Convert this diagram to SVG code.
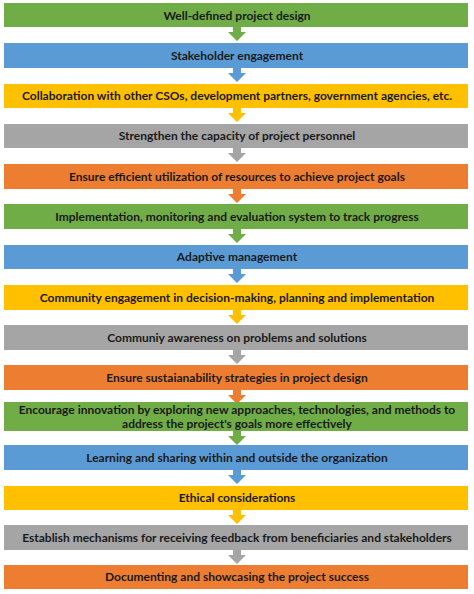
<svg xmlns="http://www.w3.org/2000/svg" width="474" height="594" viewBox="0 0 474 594">
<style>
text{font-family:Lato,"Liberation Sans",sans-serif;font-weight:bold;font-size:12px;fill:#1a1a1a;text-anchor:middle}
.g{fill:#70AD47}.b{fill:#5B9BD5}.y{fill:#FFC000}.s{fill:#A5A5A5}.o{fill:#ED7D31}
</style>
<defs>
<path id="arr" d="M-4 0H4V5H9L0 14L-9 5H-4Z"/>
</defs>
<rect width="474" height="594" fill="#fff"/>
<g id="connectors">
<use href="#arr" x="237" y="27" class="g"/>
<use href="#arr" x="237" y="68" class="b"/>
<use href="#arr" x="237" y="108" class="y"/>
<use href="#arr" x="237" y="148" class="s"/>
<use href="#arr" x="237" y="189" class="o"/>
<use href="#arr" x="237" y="229" class="g"/>
<use href="#arr" x="237" y="269" class="b"/>
<use href="#arr" x="237" y="310" class="y"/>
<use href="#arr" x="237" y="350" class="s"/>
<use href="#arr" x="237" y="390" class="o"/>
<use href="#arr" x="237" y="431" class="g"/>
<use href="#arr" x="237" y="470" class="b"/>
<use href="#arr" x="237" y="510" class="y"/>
<use href="#arr" x="237" y="550" class="s"/>
</g>
<g id="n1"><rect class="g" x="4" y="3" width="464" height="24"/><text x="237" y="19.5">Well-defined project design</text></g>
<g id="n2"><rect class="b" x="4" y="43" width="464" height="25"/><text x="237" y="60">Stakeholder engagement</text></g>
<g id="n3"><rect class="y" x="4" y="84" width="464" height="24"/><text x="237" y="100">Collaboration with other CSOs, development partners, government agencies, etc.</text></g>
<g id="n4"><rect class="s" x="4" y="124" width="464" height="24"/><text x="237" y="140">Strengthen the capacity of project personnel</text></g>
<g id="n5"><rect class="o" x="4" y="164" width="464" height="25"/><text x="237" y="181">Ensure efficient utilization of resources to achieve project goals</text></g>
<g id="n6"><rect class="g" x="4" y="204" width="464" height="25"/><text x="237" y="221">Implementation, monitoring and evaluation system to track progress</text></g>
<g id="n7"><rect class="b" x="4" y="245" width="464" height="24"/><text x="237" y="261">Adaptive management</text></g>
<g id="n8"><rect class="y" x="4" y="285" width="464" height="25"/><text x="237" y="302">Community engagement in decision-making, planning and implementation</text></g>
<g id="n9"><rect class="s" x="4" y="325" width="464" height="25"/><text x="237" y="342">Communiy awareness on problems and solutions</text></g>
<g id="n10"><rect class="o" x="4" y="365" width="464" height="25"/><text x="237" y="382">Ensure sustaianability strategies in project design</text></g>
<g id="n11"><rect class="g" x="4" y="402" width="464" height="29"/><text x="237" y="414">Encourage innovation by exploring new approaches, technologies, and methods to</text><text x="237" y="428">address the project's goals more effectively</text></g>
<g id="n12"><rect class="b" x="4" y="445" width="464" height="25"/><text x="237" y="462">Learning and sharing within and outside the organization</text></g>
<g id="n13"><rect class="y" x="4" y="486" width="464" height="24"/><text x="237" y="502">Ethical considerations</text></g>
<g id="n14"><rect class="s" x="4" y="525" width="464" height="25"/><text x="237" y="542">Establish mechanisms for receiving feedback from beneficiaries and stakeholders</text></g>
<g id="n15"><rect class="o" x="4" y="565" width="464" height="24"/><text x="237" y="581">Documenting and showcasing the project success</text></g>
</svg>
